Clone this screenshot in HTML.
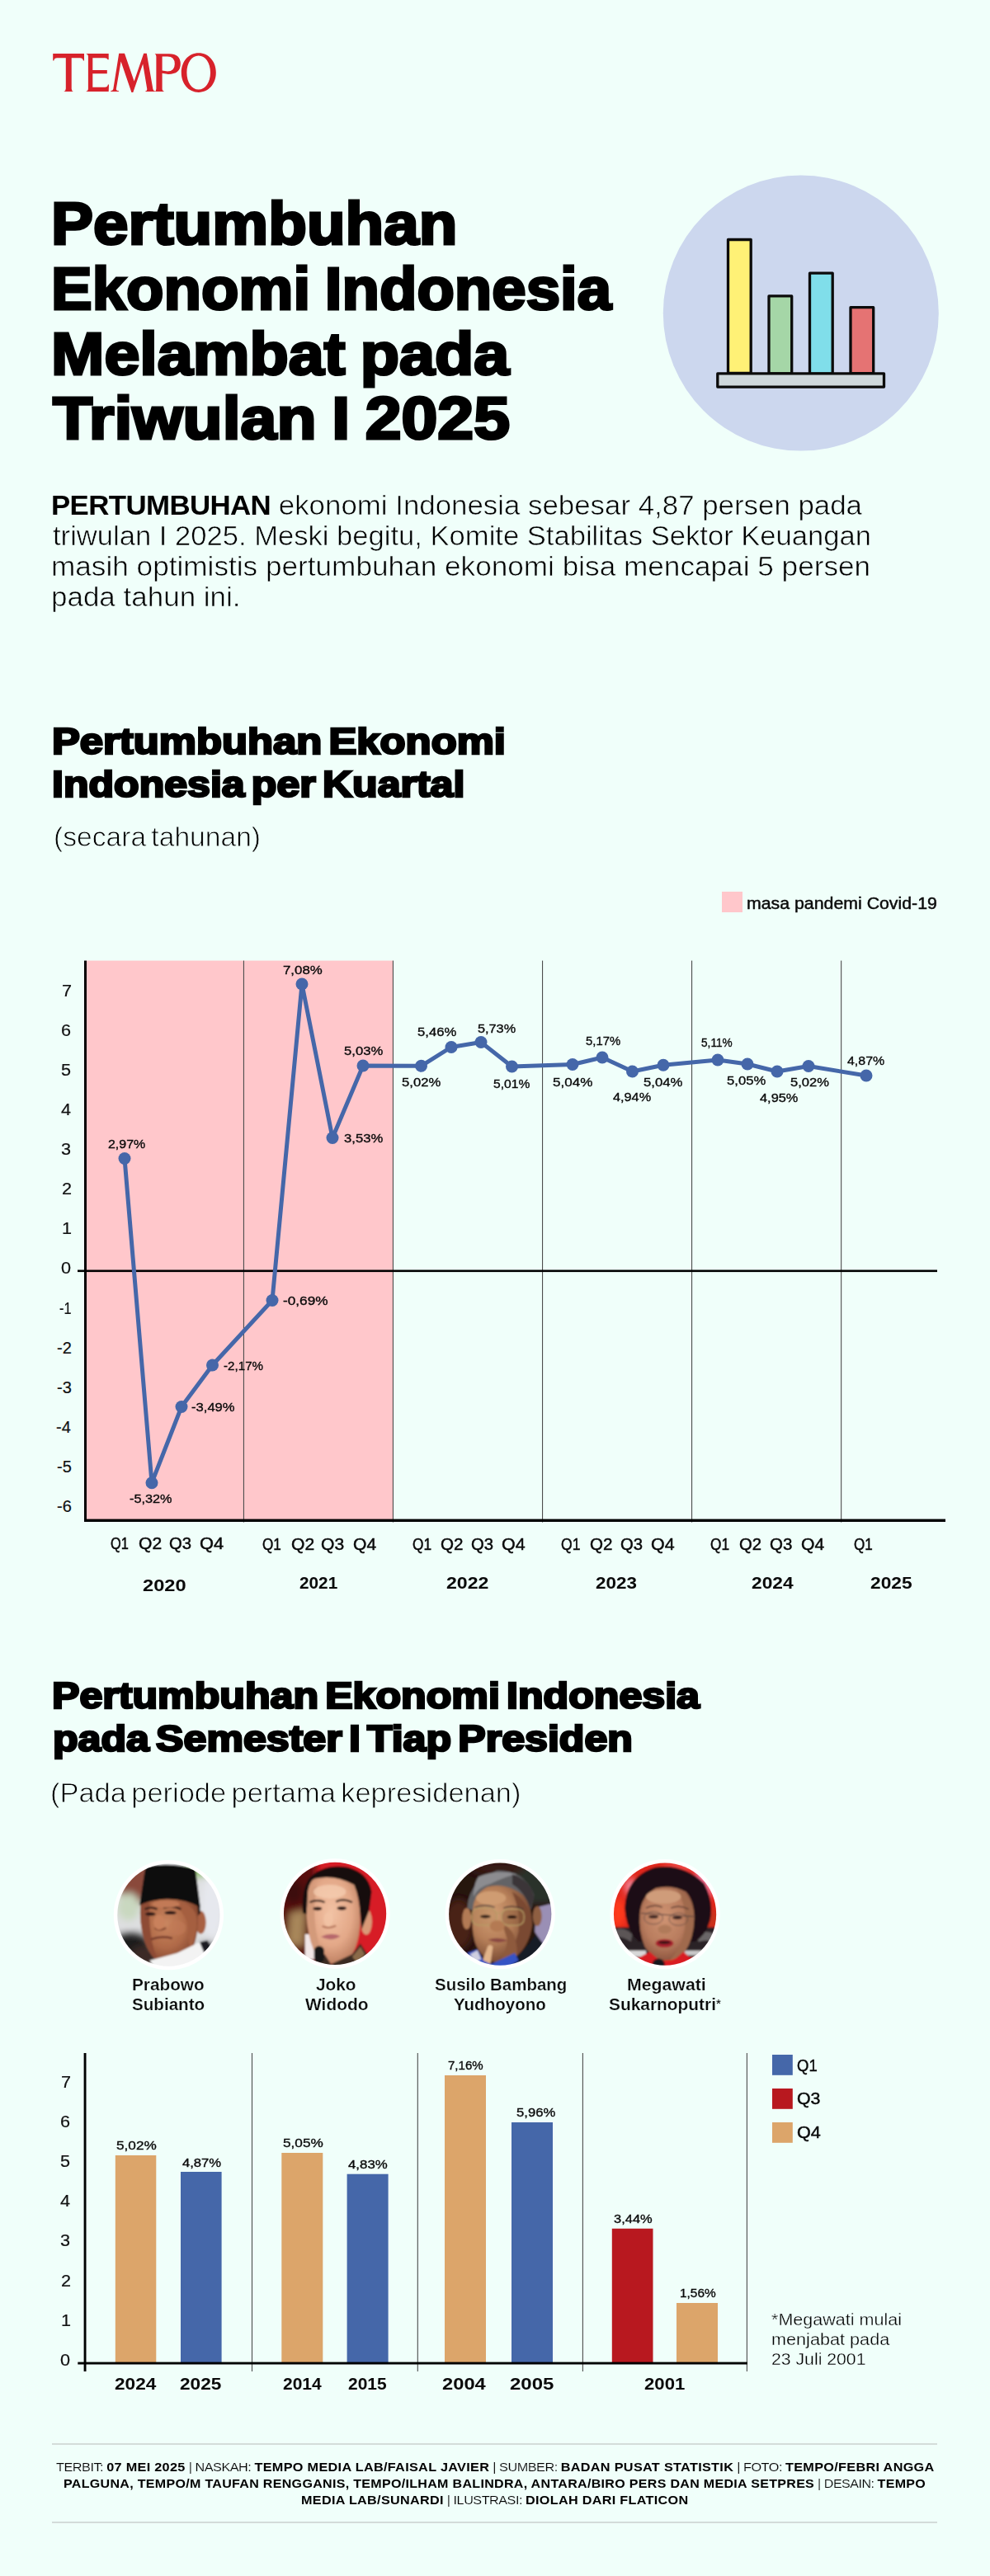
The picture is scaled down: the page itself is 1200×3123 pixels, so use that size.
<!DOCTYPE html>
<html lang="id"><head><meta charset="utf-8">
<title>Pertumbuhan Ekonomi Indonesia Melambat pada Triwulan I 2025</title>
<style>
html,body{margin:0;padding:0;background:#f0fffa;}
body{width:1200px;height:3123px;position:relative;overflow:hidden;font-family:"Liberation Sans",sans-serif;color:#111;}
.t{position:absolute;white-space:nowrap;line-height:1;transform-origin:0 0;}
.abs{position:absolute;}
b{font-weight:700;-webkit-text-stroke:0;}
</style></head><body>

<svg class="abs" style="left:50px;top:50px" width="230" height="80" viewBox="50 50 230 80" role="img" aria-label="TEMPO">
 <g fill="#d7222b" fill-rule="evenodd">
  <path d="M64.2,65.1 L102,65.1 L102,73.4 L100.9,73.4 Q100.3,70.3 97,70.3 L86.7,70.3 L86.7,107.5 Q86.7,110.3 88.8,111 L77.2,111 Q79.8,110.3 79.8,107.5 L79.8,70.3 L69.2,70.3 Q65.9,70.3 65.3,73.4 L64.2,73.4 Z"/>
  <path d="M103.9,65.1 L131.7,65.1 L131.7,72.2 L130.6,72.2 Q130,70.3 127,70.3 L112.3,70.3 L112.3,85.1 L129.8,85.1 L129.8,89.3 L112.3,89.3 L112.3,105.8 L127,105.8 Q130.3,105.8 130.9,102.5 L132,102.5 L131.7,111 L103.9,111 Q106.9,110.3 106.9,107.5 L106.9,68.6 Q106.9,65.9 103.9,65.1 Z"/>
  <path d="M134.2,111 L134.2,110.2 Q137,109.8 137.3,108 L144.2,64.8 L151,64.8 L162.6,98.5 L174.2,64.8 L177.8,64.8 L185.4,108 Q185.8,110.2 188,110.6 L188,111 L176.3,111 L176.3,110.6 Q178.6,110.2 178.3,108 L173.2,77.5 L161.3,111.9 L159.4,111.9 L146.6,74.5 L140.8,108 Q140.6,109.8 144.1,110.2 L144.1,111 Z"/>
  <path d="M187.6,65.2 L205,65.2 Q218.8,65.2 218.8,77.5 Q218.8,89.9 204,89.9 L196.6,88.8 L196.6,107.5 Q196.6,110.3 199.4,111 L187.6,111 Q189.4,110.3 189.4,107.5 L189.4,68.6 Q189.4,65.9 187.6,65.2 Z M196.6,68.4 L203,68.4 Q211.8,68.4 211.8,77.5 Q211.8,86.6 203,86.6 L196.6,85.6 Z"/>
  <path d="M240.8,64.2 C253,64.2 261.8,74.5 261.8,88 C261.8,101.5 253,111.9 240.8,111.9 C228.6,111.9 219.8,101.5 219.8,88 C219.8,74.5 228.6,64.2 240.8,64.2 Z M240.7,67.4 C232.5,67.4 226.4,76 226.4,88 C226.4,100 232.5,108.6 240.7,108.6 C248.9,108.6 255,100 255,88 C255,76 248.9,67.4 240.7,67.4 Z"/>
 </g>
</svg>

<svg class="abs" style="left:790px;top:200px" width="370" height="370" viewBox="790 200 370 370">
  <circle cx="970.8" cy="379.6" r="167" fill="#ccd7ee"/>
  <g stroke="#0b0b0b" stroke-width="3.3" stroke-linejoin="round">
    <rect x="882.5" y="290.5" width="27.7" height="162" fill="#fff176"/>
    <rect x="932" y="358.9" width="27.7" height="94" fill="#a5d6a7"/>
    <rect x="981.5" y="331.2" width="27.7" height="122" fill="#80deea"/>
    <rect x="1031" y="372.7" width="27.7" height="80" fill="#e57373"/>
    <rect x="869.8" y="452.9" width="201.7" height="16.2" fill="#cfd8dc"/>
  </g>
</svg>
<svg class="abs" style="left:0;top:1060px" width="1200" height="900" viewBox="0 1060 1200 900">
<rect x="875" y="1081" width="25" height="25" fill="#ffc7cb"/>
<rect x="104.5" y="1164.6" width="372" height="677.5" fill="#ffc7cb"/>
<rect x="294.9" y="1164.6" width="1.1" height="681" fill="#4d4d4d"/>
<rect x="475.9" y="1164.6" width="1.1" height="681" fill="#4d4d4d"/>
<rect x="657.0" y="1164.6" width="1.1" height="681" fill="#4d4d4d"/>
<rect x="838.0" y="1164.6" width="1.1" height="681" fill="#4d4d4d"/>
<rect x="1019.1" y="1164.6" width="1.1" height="681" fill="#4d4d4d"/>
<rect x="102" y="1164.6" width="3" height="680.4" fill="#000"/>
<rect x="102" y="1841.6" width="1044" height="3.4" fill="#000"/>
<rect x="94" y="1539.5" width="1042" height="2.6" fill="#000"/>
<polyline fill="none" stroke="#4567a9" stroke-width="5" stroke-linejoin="round" stroke-linecap="round" points="151,1404.5 184,1797.7 220,1705.5 257.5,1655 330,1576.5 366,1193 403,1379.5 440,1292 510.5,1292.3 547,1269.5 583,1263.5 620.5,1293 694,1290.5 730,1282 766.5,1299 804,1291.3 870,1285 906,1290 942,1299 980,1292.5 1050,1304"/>
<circle cx="151" cy="1404.5" r="7.5" fill="#4567a9"/>
<circle cx="184" cy="1797.7" r="7.5" fill="#4567a9"/>
<circle cx="220" cy="1705.5" r="7.5" fill="#4567a9"/>
<circle cx="257.5" cy="1655" r="7.5" fill="#4567a9"/>
<circle cx="330" cy="1576.5" r="7.5" fill="#4567a9"/>
<circle cx="366" cy="1193" r="7.5" fill="#4567a9"/>
<circle cx="403" cy="1379.5" r="7.5" fill="#4567a9"/>
<circle cx="440" cy="1292" r="7.5" fill="#4567a9"/>
<circle cx="510.5" cy="1292.3" r="7.5" fill="#4567a9"/>
<circle cx="547" cy="1269.5" r="7.5" fill="#4567a9"/>
<circle cx="583" cy="1263.5" r="7.5" fill="#4567a9"/>
<circle cx="620.5" cy="1293" r="7.5" fill="#4567a9"/>
<circle cx="694" cy="1290.5" r="7.5" fill="#4567a9"/>
<circle cx="730" cy="1282" r="7.5" fill="#4567a9"/>
<circle cx="766.5" cy="1299" r="7.5" fill="#4567a9"/>
<circle cx="804" cy="1291.3" r="7.5" fill="#4567a9"/>
<circle cx="870" cy="1285" r="7.5" fill="#4567a9"/>
<circle cx="906" cy="1290" r="7.5" fill="#4567a9"/>
<circle cx="942" cy="1299" r="7.5" fill="#4567a9"/>
<circle cx="980" cy="1292.5" r="7.5" fill="#4567a9"/>
<circle cx="1050" cy="1304" r="7.5" fill="#4567a9"/>
</svg>
<svg class="abs" style="left:100px;top:2230px" width="820" height="180" viewBox="100 2230 820 180">
<defs>
  <filter id="ring" x="-10%" y="-10%" width="120%" height="120%"><feGaussianBlur stdDeviation="5"/></filter>
  <filter id="soft" x="-5%" y="-5%" width="110%" height="110%"><feGaussianBlur stdDeviation="7"/></filter>
  <filter id="blur2" x="-30%" y="-30%" width="160%" height="160%"><feGaussianBlur stdDeviation="28"/></filter>
  <clipPath id="cp1"><circle cx="491" cy="486" r="410"/></clipPath>
  <clipPath id="cp2"><circle cx="502" cy="475" r="410"/></clipPath>
  <clipPath id="cp3"><circle cx="503" cy="479" r="410"/></clipPath>
  <clipPath id="cp4"><circle cx="502" cy="479" r="410"/></clipPath>

  <radialGradient id="f1" cx="0.45" cy="0.42" r="0.62"><stop offset="0" stop-color="#c98660"/><stop offset="0.55" stop-color="#b06a48"/><stop offset="1" stop-color="#7e422c"/></radialGradient>
  <radialGradient id="f2" cx="0.46" cy="0.40" r="0.65"><stop offset="0" stop-color="#f2c2a4"/><stop offset="0.6" stop-color="#e3a888"/><stop offset="1" stop-color="#b97a5c"/></radialGradient>
  <radialGradient id="f3" cx="0.34" cy="0.38" r="0.7"><stop offset="0" stop-color="#d3a076"/><stop offset="0.5" stop-color="#b57e58"/><stop offset="1" stop-color="#6a3e2a"/></radialGradient>
  <radialGradient id="f4" cx="0.45" cy="0.42" r="0.62"><stop offset="0" stop-color="#cf9473"/><stop offset="0.6" stop-color="#b87c5e"/><stop offset="1" stop-color="#86503c"/></radialGradient>
</defs>
<g transform="translate(130,2248) scale(0.15152)">
  <circle cx="491" cy="486" r="440" fill="#ffffff" filter="url(#ring)"/>
  <g clip-path="url(#cp1)"><g filter="url(#soft)">
<rect x="0" y="0" width="990" height="950" fill="#dedfe1"/>
<g filter="url(#blur2)">
 <ellipse cx="230" cy="230" rx="150" ry="170" fill="#8a4a3a"/>
 <ellipse cx="170" cy="420" rx="90" ry="110" fill="#c9d8c0"/>
 <ellipse cx="190" cy="760" rx="170" ry="130" fill="#1d1a1a"/>
 <ellipse cx="300" cy="820" rx="120" ry="90" fill="#3a2a28"/>
 <ellipse cx="720" cy="130" rx="120" ry="50" fill="#8dbd6c"/>
 <ellipse cx="840" cy="420" rx="90" ry="250" fill="#e6e8ee"/>
 <ellipse cx="800" cy="760" rx="60" ry="60" fill="#30343a"/>
</g>
<ellipse cx="748" cy="545" rx="42" ry="92" fill="#a86042"/>
<path d="M650,380 L740,400 L745,470 L700,520 L660,460 Z" fill="#1a1412"/>
<path d="M268,380 Q250,560 300,700 Q360,860 470,880 Q600,870 680,760 Q740,640 722,400 Q600,320 480,320 Q360,325 268,380 Z" fill="url(#f1)"/>
<path d="M268,390 Q255,560 300,700 Q340,820 420,870 Q360,760 350,640 Q330,520 340,390 Z" fill="#8e4c34"/>
<path d="M560,380 Q700,400 718,520 Q720,640 670,760 Q640,700 650,600 Q640,500 560,420Z" fill="#a55e40"/>
<ellipse cx="345" cy="478" rx="42" ry="14" fill="#2a1712"/>
<ellipse cx="505" cy="468" rx="48" ry="14" fill="#2a1712"/>
<path d="M300,440 Q350,415 400,440" stroke="#3a221a" stroke-width="16" fill="none"/>
<path d="M450,430 Q520,405 590,440" stroke="#3a221a" stroke-width="16" fill="none"/>
<path d="M380,590 Q420,620 470,590" stroke="#7d402c" stroke-width="14" fill="none"/>
<ellipse cx="415" cy="545" rx="45" ry="60" fill="#c9815c"/><ellipse cx="560" cy="590" rx="70" ry="60" fill="#c27a56" opacity=".6"/><ellipse cx="470" cy="400" rx="110" ry="28" fill="#c27a56"/>
<path d="M350,680 Q430,650 520,672" stroke="#6e3428" stroke-width="16" fill="none"/>
<path d="M340,850 L560,790 L745,700 L790,800 L600,905 L380,905 Z" fill="#f3f3f3"/>
<path d="M740,705 L800,690 L840,760 L780,800 Z" fill="#1c1c20"/>
<path d="M305,100 Q500,60 705,118 L745,425 Q640,362 480,358 Q350,362 258,408 Z" fill="#0b0b0d"/>
</g></g>
</g>
<g transform="translate(330,2248) scale(0.15152)">
  <circle cx="502" cy="475" r="440" fill="#ffffff" filter="url(#ring)"/>
  <g clip-path="url(#cp2)"><g filter="url(#soft)">
<rect x="0" y="0" width="990" height="950" fill="#d71c25"/>
<g filter="url(#blur2)">
 <rect x="0" y="0" width="350" height="950" fill="#581010"/>
 <path d="M140,470 L270,440 L250,740 L120,720 Z" fill="#a8875a"/>
 <ellipse cx="170" cy="300" rx="80" ry="100" fill="#3c0c0c"/>
</g>
<rect x="262" y="640" width="110" height="200" fill="#f1e6e6"/>
<ellipse cx="752" cy="540" rx="46" ry="105" fill="#d99a78"/>
<path d="M245,470 Q230,300 290,200 Q400,70 610,105 Q770,150 795,300 L775,450 L715,600 L700,460 Q690,330 660,280 Q480,200 310,260 Q280,330 280,480 Z" fill="#15100f"/>
<path d="M285,290 Q300,212 340,195 Q500,160 655,245 Q700,350 705,520 Q700,700 640,800 Q560,880 470,875 Q380,860 330,760 Q280,640 275,480 Z" fill="url(#f2)"/>
<path d="M285,320 Q275,520 330,760 Q380,850 430,870 Q350,700 340,520 Q330,380 360,250 Q300,260 285,320Z" fill="#d39a7a"/>
<ellipse cx="460" cy="300" rx="130" ry="55" fill="#f7d0b4" opacity=".7"/>
<path d="M300,385 Q360,355 420,385" stroke="#2a1a16" stroke-width="15" fill="none"/>
<path d="M510,380 Q570,350 640,385" stroke="#2a1a16" stroke-width="15" fill="none"/>
<ellipse cx="362" cy="435" rx="36" ry="15" fill="#2a1512"/>
<ellipse cx="556" cy="432" rx="38" ry="15" fill="#2a1512"/>
<path d="M400,575 Q450,600 510,572" stroke="#b06e54" stroke-width="13" fill="none"/><ellipse cx="450" cy="520" rx="38" ry="60" fill="#f3c4a6" opacity=".8"/>
<path d="M390,660 Q465,620 545,655 Q470,705 390,660Z" fill="#b7686c"/>
<path d="M330,870 L420,800 L470,880 L640,800 L705,715 L760,800 L700,880 L560,910 L400,910 Z" fill="#3a2a22"/>
<path d="M640,820 L705,740 L740,800 L680,870Z" fill="#8a6a4a"/>
<rect x="335" y="735" width="80" height="130" rx="36" fill="#141414"/>
</g></g>
</g>
<g transform="translate(530,2248) scale(0.15152)">
  <circle cx="503" cy="479" r="440" fill="#ffffff" filter="url(#ring)"/>
  <g clip-path="url(#cp3)"><g filter="url(#soft)">
<rect x="0" y="0" width="990" height="950" fill="#26120e"/>
<g filter="url(#blur2)">
 <rect x="600" y="60" width="400" height="340" fill="#2b3229"/>
 <ellipse cx="170" cy="560" rx="120" ry="200" fill="#4a2216"/>
 <ellipse cx="480" cy="110" rx="220" ry="50" fill="#3a1a16"/>
</g>
<path d="M790,425 L920,395 L920,720 L840,720 L780,620 Z" fill="#9a8fb5"/>
<ellipse cx="236" cy="515" rx="36" ry="85" fill="#b27a55"/>
<ellipse cx="800" cy="495" rx="36" ry="80" fill="#8f5e42"/>
<path d="M240,430 Q250,220 480,130 Q700,125 775,330 L750,440 Q640,240 420,255 Q300,300 285,450 Z" fill="#636366"/>
<path d="M330,180 Q480,120 640,160 Q560,170 420,240 Q330,260 290,340 Q290,240 330,180Z" fill="#8c8c90"/>
<path d="M600,160 Q740,200 775,340 L745,440 Q700,300 600,240 Z" fill="#3a3638"/>
<path d="M285,440 Q290,320 400,260 Q560,225 690,330 Q760,420 760,560 Q740,720 640,810 Q540,880 440,860 Q340,820 300,700 Q270,580 285,440 Z" fill="url(#f3)"/>
<path d="M600,300 Q740,380 760,560 Q740,720 640,810 Q560,860 500,865 Q620,760 650,620 Q670,460 600,300Z" fill="#7a4a32"/>
<ellipse cx="430" cy="350" rx="120" ry="55" fill="#cf9c72"/><path d="M520,560 Q640,600 640,810 Q560,860 500,865 Q560,760 560,680Z" fill="#8e5a3c"/>
<rect x="275" y="432" width="200" height="135" rx="55" fill="#b98a60" fill-opacity=".45" stroke="#b59c66" stroke-width="8"/>
<rect x="515" y="440" width="180" height="128" rx="52" fill="#8a5a3c" fill-opacity=".45" stroke="#b59c66" stroke-width="8"/>
<path d="M475,470 L515,472" stroke="#b59c66" stroke-width="8"/>
<ellipse cx="385" cy="498" rx="42" ry="13" fill="#2e1a12"/><path d="M300,425 Q380,395 460,425" stroke="#5a4a40" stroke-width="10" fill="none"/>
<ellipse cx="598" cy="502" rx="40" ry="13" fill="#2a160f"/><path d="M530,430 Q610,400 690,440" stroke="#4a3a32" stroke-width="10" fill="none"/>
<ellipse cx="480" cy="575" rx="60" ry="45" fill="#b47a52"/>
<path d="M405,685 Q480,655 565,690 Q485,720 405,685Z" fill="#8b4a42"/>
<path d="M355,870 L405,735 Q425,715 445,740 L425,880 Z" fill="#e2b48a"/>
<path d="M560,870 Q700,780 790,640 L850,720 L820,800 L650,900 Z" fill="#181a28"/>
<path d="M240,790 L320,760 L370,850 L430,880 L620,790 L650,850 L560,905 L330,905 Z" fill="#3552c4"/>
<path d="M262,800 L322,768 L352,840 L300,860Z" fill="#cfcfe0"/>
</g></g>
</g>
<g transform="translate(730,2248) scale(0.15152)">
  <circle cx="502" cy="479" r="440" fill="#ffffff" filter="url(#ring)"/>
  <g clip-path="url(#cp4)"><g filter="url(#soft)">
<rect x="0" y="0" width="990" height="950" fill="#e0261a"/>
<g filter="url(#blur2)">
 <ellipse cx="800" cy="250" rx="90" ry="120" fill="#f06a8a"/>
 <ellipse cx="230" cy="260" rx="50" ry="70" fill="#f58aa0"/>
 <ellipse cx="130" cy="470" rx="60" ry="120" fill="#ff3a1a"/>
 <ellipse cx="880" cy="520" rx="60" ry="80" fill="#c8301a"/>
 <ellipse cx="600" cy="110" rx="120" ry="40" fill="#f04a4a"/>
</g>
<rect x="60" y="585" width="880" height="240" fill="#2b2325"/>
<path d="M110,600 Q180,580 240,640 L230,700 Q150,650 100,660Z" fill="#5b5557"/>
<path d="M760,640 Q830,600 900,640 L890,700 Q830,680 770,700Z" fill="#6b6668"/>
<rect x="150" y="770" width="200" height="50" fill="#d8d8d8"/>
<rect x="650" y="770" width="180" height="40" fill="#c8c8c8"/>
<path d="M180,430 Q190,180 420,105 Q650,70 815,235 Q895,380 862,530 Q830,650 740,700 L290,700 Q190,600 180,430 Z" fill="#1c0e12"/>
<path d="M300,480 Q310,330 430,270 Q560,240 670,300 Q740,380 735,520 Q730,680 660,780 Q580,850 500,850 Q400,840 340,740 Q290,620 300,480 Z" fill="url(#f4)"/>
<path d="M600,280 Q740,360 735,520 Q730,680 660,780 Q600,840 540,848 Q640,740 660,600 Q680,420 600,280Z" fill="#a06a4e"/>
<ellipse cx="490" cy="340" rx="140" ry="55" fill="#cf9c7a"/>
<path d="M310,472 L730,498" stroke="#4a3a3a" stroke-width="7"/>
<ellipse cx="410" cy="510" rx="75" ry="50" fill="none" stroke="#6a5048" stroke-width="6"/>
<ellipse cx="610" cy="520" rx="75" ry="50" fill="none" stroke="#6a5048" stroke-width="6"/>
<ellipse cx="410" cy="500" rx="40" ry="13" fill="#3a2420"/>
<ellipse cx="600" cy="508" rx="40" ry="13" fill="#3a2420"/>
<path d="M350,430 Q420,395 480,425" stroke="#5a3a30" stroke-width="9" fill="none"/>
<path d="M550,430 Q620,400 690,440" stroke="#5a3a30" stroke-width="9" fill="none"/>
<ellipse cx="500" cy="600" rx="55" ry="35" fill="#b07a5a"/>
<ellipse cx="498" cy="712" rx="72" ry="34" fill="#a8222e"/>
<ellipse cx="498" cy="706" rx="50" ry="13" fill="#3a1216"/>
<path d="M270,840 L380,780 L470,860 L560,860 L650,780 L730,850 L620,910 L380,910 Z" fill="#d91a22"/>
<ellipse cx="450" cy="880" rx="50" ry="45" fill="#17171a"/>
</g></g>
</g></svg>
<svg class="abs" style="left:0;top:2470px" width="1200" height="440" viewBox="0 2470 1200 440">
<rect x="304.95" y="2489" width="1.1" height="386" fill="#4d4d4d"/>
<rect x="505.75" y="2489" width="1.1" height="386" fill="#4d4d4d"/>
<rect x="705.85" y="2489" width="1.1" height="386" fill="#4d4d4d"/>
<rect x="904.85" y="2489" width="1.1" height="386" fill="#4d4d4d"/>
<rect x="139.8" y="2613" width="49.5" height="251" fill="#dca56a"/>
<rect x="219" y="2633" width="49.6" height="231" fill="#4567a9"/>
<rect x="341.3" y="2610" width="50" height="254" fill="#dca56a"/>
<rect x="420.6" y="2635.7" width="50" height="228.3" fill="#4567a9"/>
<rect x="539" y="2516" width="50" height="348" fill="#dca56a"/>
<rect x="620" y="2573" width="50" height="291" fill="#4567a9"/>
<rect x="741.8" y="2701.8" width="49.7" height="162.2" fill="#b8181f"/>
<rect x="820" y="2792" width="50" height="72" fill="#dca56a"/>
<rect x="101.6" y="2489" width="2.9" height="386" fill="#000"/>
<rect x="94.3" y="2863.6" width="811.6" height="2.9" fill="#000"/>
<rect x="936" y="2491" width="24.8" height="24.8" fill="#4567a9"/>
<rect x="936" y="2532" width="24.8" height="24.8" fill="#b8181f"/>
<rect x="936" y="2573" width="24.8" height="24.8" fill="#dca56a"/>
</svg>

<div class="abs" style="left:63px;top:2961.5px;width:1073px;height:2px;background:#d3dcd9"></div>
<div class="abs" style="left:63px;top:3056.6px;width:1073px;height:2px;background:#d3dcd9"></div>
<div class="t" style="left:61.86px;top:233.52px;font-family:'Liberation Sans', sans-serif;font-size:73.1px;font-weight:700;-webkit-text-stroke:3.2px currentColor;word-spacing:-3px;color:#000;transform:scaleX(1.0452);">Pertumbuhan</div>
<div class="t" style="left:61.95px;top:312.62px;font-family:'Liberation Sans', sans-serif;font-size:73.1px;font-weight:700;-webkit-text-stroke:3.2px currentColor;word-spacing:-3px;color:#000;transform:scaleX(1.0180);">Ekonomi Indonesia</div>
<div class="t" style="left:61.83px;top:391.62px;font-family:'Liberation Sans', sans-serif;font-size:73.1px;font-weight:700;-webkit-text-stroke:3.2px currentColor;word-spacing:-3px;color:#000;transform:scaleX(1.0573);">Melambat pada</div>
<div class="t" style="left:64.08px;top:470.42px;font-family:'Liberation Sans', sans-serif;font-size:73.1px;font-weight:700;-webkit-text-stroke:3.2px currentColor;word-spacing:-3px;color:#000;transform:scaleX(1.0777);">Triwulan I 2025</div>
<div class="t" style="left:61.88px;top:596.14px;font-family:'Liberation Sans', sans-serif;font-size:33.5px;font-weight:400;-webkit-text-stroke:0.6px #f0fffa;color:#000;transform:scaleX(1.0403);"><b style="letter-spacing:-0.6px">PERTUMBUHAN</b> ekonomi Indonesia sebesar 4,87 persen pada</div>
<div class="t" style="left:63.97px;top:632.94px;font-family:'Liberation Sans', sans-serif;font-size:33.5px;font-weight:400;-webkit-text-stroke:0.6px #f0fffa;color:#000;transform:scaleX(1.0324);">triwulan I 2025. Meski begitu, Komite Stabilitas Sektor Keuangan</div>
<div class="t" style="left:61.85px;top:670.04px;font-family:'Liberation Sans', sans-serif;font-size:33.5px;font-weight:400;-webkit-text-stroke:0.6px #f0fffa;color:#000;transform:scaleX(1.0499);">masih optimistis pertumbuhan ekonomi bisa mencapai 5 persen</div>
<div class="t" style="left:61.87px;top:706.64px;font-family:'Liberation Sans', sans-serif;font-size:33.5px;font-weight:400;-webkit-text-stroke:0.6px #f0fffa;color:#000;transform:scaleX(1.0444);">pada tahun ini.</div>
<div class="t" style="left:62.68px;top:876.62px;font-family:'Liberation Sans', sans-serif;font-size:43.8px;font-weight:700;-webkit-text-stroke:2.6px currentColor;word-spacing:-5px;color:#000;transform:scaleX(1.1592);">Pertumbuhan Ekonomi</div>
<div class="t" style="left:62.71px;top:928.62px;font-family:'Liberation Sans', sans-serif;font-size:43.8px;font-weight:700;-webkit-text-stroke:2.6px currentColor;word-spacing:-5px;color:#000;transform:scaleX(1.1429);">Indonesia per Kuartal</div>
<div class="t" style="left:64.95px;top:999.23px;font-family:'Liberation Sans', sans-serif;font-size:32.8px;font-weight:400;-webkit-text-stroke:0.8px #f0fffa;word-spacing:-3px;color:#000;transform:scaleX(1.0249);">(secara tahunan)</div>
<div class="t" style="left:62.71px;top:2033.62px;font-family:'Liberation Sans', sans-serif;font-size:43.8px;font-weight:700;-webkit-text-stroke:2.6px currentColor;word-spacing:-5px;color:#000;transform:scaleX(1.1443);">Pertumbuhan Ekonomi Indonesia</div>
<div class="t" style="left:63.86px;top:2085.62px;font-family:'Liberation Sans', sans-serif;font-size:43.8px;font-weight:700;-webkit-text-stroke:2.6px currentColor;word-spacing:-5px;color:#000;transform:scaleX(1.1438);">pada Semester I Tiap Presiden</div>
<div class="t" style="left:60.60px;top:2157.83px;font-family:'Liberation Sans', sans-serif;font-size:32.8px;font-weight:400;-webkit-text-stroke:0.8px #f0fffa;word-spacing:-3px;color:#000;transform:scaleX(1.0497);">(Pada periode pertama kepresidenan)</div>
<div class="t" style="left:904.93px;top:1084.77px;font-family:'Liberation Sans', sans-serif;font-size:20px;font-weight:400;-webkit-text-stroke:0.45px currentColor;color:#0a0a0a;transform:scaleX(1.0651);">masa pandemi Covid-19</div>
<div class="t" style="left:75.20px;top:1190.77px;font-family:'Liberation Sans', sans-serif;font-size:20px;font-weight:400;-webkit-text-stroke:0.2px currentColor;color:#111;transform:scaleX(1.0800);">7</div>
<div class="t" style="left:74.12px;top:1238.87px;font-family:'Liberation Sans', sans-serif;font-size:20px;font-weight:400;-webkit-text-stroke:0.2px currentColor;color:#111;transform:scaleX(1.0800);">6</div>
<div class="t" style="left:74.12px;top:1286.97px;font-family:'Liberation Sans', sans-serif;font-size:20px;font-weight:400;-webkit-text-stroke:0.2px currentColor;color:#111;transform:scaleX(1.0800);">5</div>
<div class="t" style="left:74.12px;top:1335.07px;font-family:'Liberation Sans', sans-serif;font-size:20px;font-weight:400;-webkit-text-stroke:0.2px currentColor;color:#111;transform:scaleX(1.0800);">4</div>
<div class="t" style="left:74.12px;top:1383.17px;font-family:'Liberation Sans', sans-serif;font-size:20px;font-weight:400;-webkit-text-stroke:0.2px currentColor;color:#111;transform:scaleX(1.0800);">3</div>
<div class="t" style="left:75.20px;top:1431.27px;font-family:'Liberation Sans', sans-serif;font-size:20px;font-weight:400;-webkit-text-stroke:0.2px currentColor;color:#111;transform:scaleX(1.0800);">2</div>
<div class="t" style="left:75.20px;top:1479.37px;font-family:'Liberation Sans', sans-serif;font-size:20px;font-weight:400;-webkit-text-stroke:0.2px currentColor;color:#111;transform:scaleX(1.0800);">1</div>
<div class="t" style="left:74.12px;top:1527.47px;font-family:'Liberation Sans', sans-serif;font-size:20px;font-weight:400;-webkit-text-stroke:0.2px currentColor;color:#111;transform:scaleX(1.0800);">0</div>
<div class="t" style="left:72.19px;top:1575.57px;font-family:'Liberation Sans', sans-serif;font-size:20px;font-weight:400;-webkit-text-stroke:0.2px currentColor;color:#111;transform:scaleX(0.8125);">-1</div>
<div class="t" style="left:69.00px;top:1623.67px;font-family:'Liberation Sans', sans-serif;font-size:20px;font-weight:400;-webkit-text-stroke:0.2px currentColor;color:#111;">-2</div>
<div class="t" style="left:69.00px;top:1671.77px;font-family:'Liberation Sans', sans-serif;font-size:20px;font-weight:400;-webkit-text-stroke:0.2px currentColor;color:#111;">-3</div>
<div class="t" style="left:68.00px;top:1719.87px;font-family:'Liberation Sans', sans-serif;font-size:20px;font-weight:400;-webkit-text-stroke:0.2px currentColor;color:#111;">-4</div>
<div class="t" style="left:69.00px;top:1767.97px;font-family:'Liberation Sans', sans-serif;font-size:20px;font-weight:400;-webkit-text-stroke:0.2px currentColor;color:#111;">-5</div>
<div class="t" style="left:69.00px;top:1816.07px;font-family:'Liberation Sans', sans-serif;font-size:20px;font-weight:400;-webkit-text-stroke:0.2px currentColor;color:#111;">-6</div>
<div class="t" style="left:130.70px;top:1379.56px;font-family:'Liberation Sans', sans-serif;font-size:14.7px;font-weight:400;-webkit-text-stroke:0.35px currentColor;color:#0a0a0a;transform:scaleX(1.0854);">2,97%</div>
<div class="t" style="left:157.20px;top:1810.36px;font-family:'Liberation Sans', sans-serif;font-size:14.7px;font-weight:400;-webkit-text-stroke:0.35px currentColor;color:#0a0a0a;transform:scaleX(1.1087);">-5,32%</div>
<div class="t" style="left:231.70px;top:1699.06px;font-family:'Liberation Sans', sans-serif;font-size:14.7px;font-weight:400;-webkit-text-stroke:0.35px currentColor;color:#0a0a0a;transform:scaleX(1.1304);">-3,49%</div>
<div class="t" style="left:270.70px;top:1648.56px;font-family:'Liberation Sans', sans-serif;font-size:14.7px;font-weight:400;-webkit-text-stroke:0.35px currentColor;color:#0a0a0a;transform:scaleX(1.0326);">-2,17%</div>
<div class="t" style="left:343.20px;top:1570.06px;font-family:'Liberation Sans', sans-serif;font-size:14.7px;font-weight:400;-webkit-text-stroke:0.35px currentColor;color:#0a0a0a;transform:scaleX(1.1739);">-0,69%</div>
<div class="t" style="left:343.20px;top:1169.06px;font-family:'Liberation Sans', sans-serif;font-size:14.7px;font-weight:400;-webkit-text-stroke:0.35px currentColor;color:#0a0a0a;transform:scaleX(1.1463);">7,08%</div>
<div class="t" style="left:416.70px;top:1373.06px;font-family:'Liberation Sans', sans-serif;font-size:14.7px;font-weight:400;-webkit-text-stroke:0.35px currentColor;color:#0a0a0a;transform:scaleX(1.1341);">3,53%</div>
<div class="t" style="left:416.70px;top:1267.06px;font-family:'Liberation Sans', sans-serif;font-size:14.7px;font-weight:400;-webkit-text-stroke:0.35px currentColor;color:#0a0a0a;transform:scaleX(1.1341);">5,03%</div>
<div class="t" style="left:486.70px;top:1304.56px;font-family:'Liberation Sans', sans-serif;font-size:14.7px;font-weight:400;-webkit-text-stroke:0.35px currentColor;color:#0a0a0a;transform:scaleX(1.1341);">5,02%</div>
<div class="t" style="left:505.70px;top:1244.26px;font-family:'Liberation Sans', sans-serif;font-size:14.7px;font-weight:400;-webkit-text-stroke:0.35px currentColor;color:#0a0a0a;transform:scaleX(1.1341);">5,46%</div>
<div class="t" style="left:578.80px;top:1239.56px;font-family:'Liberation Sans', sans-serif;font-size:14.7px;font-weight:400;-webkit-text-stroke:0.35px currentColor;color:#0a0a0a;transform:scaleX(1.1073);">5,73%</div>
<div class="t" style="left:598.20px;top:1306.56px;font-family:'Liberation Sans', sans-serif;font-size:14.7px;font-weight:400;-webkit-text-stroke:0.35px currentColor;color:#0a0a0a;transform:scaleX(1.0634);">5,01%</div>
<div class="t" style="left:670.20px;top:1305.26px;font-family:'Liberation Sans', sans-serif;font-size:14.7px;font-weight:400;-webkit-text-stroke:0.35px currentColor;color:#0a0a0a;transform:scaleX(1.1610);">5,04%</div>
<div class="t" style="left:709.70px;top:1255.16px;font-family:'Liberation Sans', sans-serif;font-size:14.7px;font-weight:400;-webkit-text-stroke:0.35px currentColor;color:#0a0a0a;transform:scaleX(1.0122);">5,17%</div>
<div class="t" style="left:742.80px;top:1322.56px;font-family:'Liberation Sans', sans-serif;font-size:14.7px;font-weight:400;-webkit-text-stroke:0.35px currentColor;color:#0a0a0a;transform:scaleX(1.1073);">4,94%</div>
<div class="t" style="left:780.20px;top:1305.26px;font-family:'Liberation Sans', sans-serif;font-size:14.7px;font-weight:400;-webkit-text-stroke:0.35px currentColor;color:#0a0a0a;transform:scaleX(1.1390);">5,04%</div>
<div class="t" style="left:849.70px;top:1257.16px;font-family:'Liberation Sans', sans-serif;font-size:14.7px;font-weight:400;-webkit-text-stroke:0.35px currentColor;color:#0a0a0a;transform:scaleX(0.9300);">5,11%</div>
<div class="t" style="left:881.20px;top:1302.56px;font-family:'Liberation Sans', sans-serif;font-size:14.7px;font-weight:400;-webkit-text-stroke:0.35px currentColor;color:#0a0a0a;transform:scaleX(1.1341);">5,05%</div>
<div class="t" style="left:921.20px;top:1324.26px;font-family:'Liberation Sans', sans-serif;font-size:14.7px;font-weight:400;-webkit-text-stroke:0.35px currentColor;color:#0a0a0a;transform:scaleX(1.1146);">4,95%</div>
<div class="t" style="left:958.00px;top:1305.26px;font-family:'Liberation Sans', sans-serif;font-size:14.7px;font-weight:400;-webkit-text-stroke:0.35px currentColor;color:#0a0a0a;transform:scaleX(1.1268);">5,02%</div>
<div class="t" style="left:1026.70px;top:1278.56px;font-family:'Liberation Sans', sans-serif;font-size:14.7px;font-weight:400;-webkit-text-stroke:0.35px currentColor;color:#0a0a0a;transform:scaleX(1.0854);">4,87%</div>
<div class="t" style="left:134.16px;top:1862.09px;font-family:'Liberation Sans', sans-serif;font-size:19.5px;font-weight:400;-webkit-text-stroke:0.45px currentColor;color:#0a0a0a;transform:scaleX(0.8400);">Q1</div>
<div class="t" style="left:167.92px;top:1862.09px;font-family:'Liberation Sans', sans-serif;font-size:19.5px;font-weight:400;-webkit-text-stroke:0.45px currentColor;color:#0a0a0a;transform:scaleX(1.0800);">Q2</div>
<div class="t" style="left:204.96px;top:1862.09px;font-family:'Liberation Sans', sans-serif;font-size:19.5px;font-weight:400;-webkit-text-stroke:0.45px currentColor;color:#0a0a0a;transform:scaleX(1.0400);">Q3</div>
<div class="t" style="left:241.88px;top:1862.09px;font-family:'Liberation Sans', sans-serif;font-size:19.5px;font-weight:400;-webkit-text-stroke:0.45px currentColor;color:#0a0a0a;transform:scaleX(1.1200);">Q4</div>
<div class="t" style="left:318.12px;top:1863.49px;font-family:'Liberation Sans', sans-serif;font-size:19.5px;font-weight:400;-webkit-text-stroke:0.45px currentColor;color:#0a0a0a;transform:scaleX(0.8800);">Q1</div>
<div class="t" style="left:352.92px;top:1863.49px;font-family:'Liberation Sans', sans-serif;font-size:19.5px;font-weight:400;-webkit-text-stroke:0.45px currentColor;color:#0a0a0a;transform:scaleX(1.0800);">Q2</div>
<div class="t" style="left:388.92px;top:1863.49px;font-family:'Liberation Sans', sans-serif;font-size:19.5px;font-weight:400;-webkit-text-stroke:0.45px currentColor;color:#0a0a0a;transform:scaleX(1.0800);">Q3</div>
<div class="t" style="left:427.92px;top:1863.49px;font-family:'Liberation Sans', sans-serif;font-size:19.5px;font-weight:400;-webkit-text-stroke:0.45px currentColor;color:#0a0a0a;transform:scaleX(1.0800);">Q4</div>
<div class="t" style="left:499.51px;top:1863.49px;font-family:'Liberation Sans', sans-serif;font-size:19.5px;font-weight:400;-webkit-text-stroke:0.45px currentColor;color:#0a0a0a;transform:scaleX(0.8880);">Q1</div>
<div class="t" style="left:533.94px;top:1863.49px;font-family:'Liberation Sans', sans-serif;font-size:19.5px;font-weight:400;-webkit-text-stroke:0.45px currentColor;color:#0a0a0a;transform:scaleX(1.0560);">Q2</div>
<div class="t" style="left:570.96px;top:1863.49px;font-family:'Liberation Sans', sans-serif;font-size:19.5px;font-weight:400;-webkit-text-stroke:0.45px currentColor;color:#0a0a0a;transform:scaleX(1.0400);">Q3</div>
<div class="t" style="left:608.40px;top:1863.49px;font-family:'Liberation Sans', sans-serif;font-size:19.5px;font-weight:400;-webkit-text-stroke:0.45px currentColor;color:#0a0a0a;transform:scaleX(1.1000);">Q4</div>
<div class="t" style="left:680.10px;top:1863.49px;font-family:'Liberation Sans', sans-serif;font-size:19.5px;font-weight:400;-webkit-text-stroke:0.45px currentColor;color:#0a0a0a;transform:scaleX(0.9040);">Q1</div>
<div class="t" style="left:714.94px;top:1863.49px;font-family:'Liberation Sans', sans-serif;font-size:19.5px;font-weight:400;-webkit-text-stroke:0.45px currentColor;color:#0a0a0a;transform:scaleX(1.0560);">Q2</div>
<div class="t" style="left:751.96px;top:1863.49px;font-family:'Liberation Sans', sans-serif;font-size:19.5px;font-weight:400;-webkit-text-stroke:0.45px currentColor;color:#0a0a0a;transform:scaleX(1.0400);">Q3</div>
<div class="t" style="left:789.40px;top:1863.49px;font-family:'Liberation Sans', sans-serif;font-size:19.5px;font-weight:400;-webkit-text-stroke:0.45px currentColor;color:#0a0a0a;transform:scaleX(1.1000);">Q4</div>
<div class="t" style="left:860.91px;top:1863.49px;font-family:'Liberation Sans', sans-serif;font-size:19.5px;font-weight:400;-webkit-text-stroke:0.45px currentColor;color:#0a0a0a;transform:scaleX(0.8880);">Q1</div>
<div class="t" style="left:895.96px;top:1863.49px;font-family:'Liberation Sans', sans-serif;font-size:19.5px;font-weight:400;-webkit-text-stroke:0.45px currentColor;color:#0a0a0a;transform:scaleX(1.0400);">Q2</div>
<div class="t" style="left:932.65px;top:1863.49px;font-family:'Liberation Sans', sans-serif;font-size:19.5px;font-weight:400;-webkit-text-stroke:0.45px currentColor;color:#0a0a0a;transform:scaleX(1.0520);">Q3</div>
<div class="t" style="left:970.62px;top:1863.49px;font-family:'Liberation Sans', sans-serif;font-size:19.5px;font-weight:400;-webkit-text-stroke:0.45px currentColor;color:#0a0a0a;transform:scaleX(1.0840);">Q4</div>
<div class="t" style="left:1034.62px;top:1863.49px;font-family:'Liberation Sans', sans-serif;font-size:19.5px;font-weight:400;-webkit-text-stroke:0.45px currentColor;color:#0a0a0a;transform:scaleX(0.8760);">Q1</div>
<div class="t" style="left:172.78px;top:1913.18px;font-family:'Liberation Sans', sans-serif;font-size:19.4px;font-weight:700;color:#0a0a0a;transform:scaleX(1.2195);">2020</div>
<div class="t" style="left:362.93px;top:1909.58px;font-family:'Liberation Sans', sans-serif;font-size:19.4px;font-weight:700;color:#0a0a0a;transform:scaleX(1.0714);">2021</div>
<div class="t" style="left:541.21px;top:1909.58px;font-family:'Liberation Sans', sans-serif;font-size:19.4px;font-weight:700;color:#0a0a0a;transform:scaleX(1.1927);">2022</div>
<div class="t" style="left:722.24px;top:1909.58px;font-family:'Liberation Sans', sans-serif;font-size:19.4px;font-weight:700;color:#0a0a0a;transform:scaleX(1.1571);">2023</div>
<div class="t" style="left:911.13px;top:1909.58px;font-family:'Liberation Sans', sans-serif;font-size:19.4px;font-weight:700;color:#0a0a0a;transform:scaleX(1.1738);">2024</div>
<div class="t" style="left:1055.43px;top:1909.58px;font-family:'Liberation Sans', sans-serif;font-size:19.4px;font-weight:700;color:#0a0a0a;transform:scaleX(1.1738);">2025</div>
<div class="t" style="left:159.55px;top:2397.32px;font-family:'Liberation Sans', sans-serif;font-size:19.7px;font-weight:700;-webkit-text-stroke:0.22px #f0fffa;color:#0a0a0a;transform:scaleX(1.0543);">Prabowo</div>
<div class="t" style="left:159.55px;top:2421.32px;font-family:'Liberation Sans', sans-serif;font-size:19.7px;font-weight:700;-webkit-text-stroke:0.22px #f0fffa;color:#0a0a0a;transform:scaleX(1.0470);">Subianto</div>
<div class="t" style="left:382.94px;top:2397.32px;font-family:'Liberation Sans', sans-serif;font-size:19.7px;font-weight:700;-webkit-text-stroke:0.22px #f0fffa;color:#0a0a0a;transform:scaleX(1.0568);">Joko</div>
<div class="t" style="left:370.00px;top:2421.32px;font-family:'Liberation Sans', sans-serif;font-size:19.7px;font-weight:700;-webkit-text-stroke:0.22px #f0fffa;color:#0a0a0a;transform:scaleX(1.0634);">Widodo</div>
<div class="t" style="left:526.96px;top:2397.32px;font-family:'Liberation Sans', sans-serif;font-size:19.7px;font-weight:700;-webkit-text-stroke:0.22px #f0fffa;color:#0a0a0a;transform:scaleX(1.0395);">Susilo Bambang</div>
<div class="t" style="left:549.96px;top:2421.32px;font-family:'Liberation Sans', sans-serif;font-size:19.7px;font-weight:700;-webkit-text-stroke:0.22px #f0fffa;color:#0a0a0a;transform:scaleX(1.0434);">Yudhoyono</div>
<div class="t" style="left:759.52px;top:2397.32px;font-family:'Liberation Sans', sans-serif;font-size:19.7px;font-weight:700;-webkit-text-stroke:0.22px #f0fffa;color:#0a0a0a;transform:scaleX(1.0802);">Megawati</div>
<div class="t" style="left:737.94px;top:2421.32px;font-family:'Liberation Sans', sans-serif;font-size:19.7px;font-weight:700;-webkit-text-stroke:0.22px #f0fffa;color:#0a0a0a;transform:scaleX(1.0606);">Sukarnoputri<span style="font-size:14px;font-weight:700;position:relative;top:-3px">*</span></div>
<div class="t" style="left:74.20px;top:2513.77px;font-family:'Liberation Sans', sans-serif;font-size:20px;font-weight:400;-webkit-text-stroke:0.2px currentColor;color:#111;transform:scaleX(1.0800);">7</div>
<div class="t" style="left:73.12px;top:2561.92px;font-family:'Liberation Sans', sans-serif;font-size:20px;font-weight:400;-webkit-text-stroke:0.2px currentColor;color:#111;transform:scaleX(1.0800);">6</div>
<div class="t" style="left:73.12px;top:2610.07px;font-family:'Liberation Sans', sans-serif;font-size:20px;font-weight:400;-webkit-text-stroke:0.2px currentColor;color:#111;transform:scaleX(1.0800);">5</div>
<div class="t" style="left:73.12px;top:2658.22px;font-family:'Liberation Sans', sans-serif;font-size:20px;font-weight:400;-webkit-text-stroke:0.2px currentColor;color:#111;transform:scaleX(1.0800);">4</div>
<div class="t" style="left:73.12px;top:2706.37px;font-family:'Liberation Sans', sans-serif;font-size:20px;font-weight:400;-webkit-text-stroke:0.2px currentColor;color:#111;transform:scaleX(1.0800);">3</div>
<div class="t" style="left:74.20px;top:2754.52px;font-family:'Liberation Sans', sans-serif;font-size:20px;font-weight:400;-webkit-text-stroke:0.2px currentColor;color:#111;transform:scaleX(1.0800);">2</div>
<div class="t" style="left:74.20px;top:2802.67px;font-family:'Liberation Sans', sans-serif;font-size:20px;font-weight:400;-webkit-text-stroke:0.2px currentColor;color:#111;transform:scaleX(1.0800);">1</div>
<div class="t" style="left:73.12px;top:2850.82px;font-family:'Liberation Sans', sans-serif;font-size:20px;font-weight:400;-webkit-text-stroke:0.2px currentColor;color:#111;transform:scaleX(1.0800);">0</div>
<div class="t" style="left:140.80px;top:2594.36px;font-family:'Liberation Sans', sans-serif;font-size:14.7px;font-weight:400;-webkit-text-stroke:0.35px currentColor;color:#0a0a0a;transform:scaleX(1.1707);">5,02%</div>
<div class="t" style="left:220.60px;top:2614.56px;font-family:'Liberation Sans', sans-serif;font-size:14.7px;font-weight:400;-webkit-text-stroke:0.35px currentColor;color:#0a0a0a;transform:scaleX(1.1317);">4,87%</div>
<div class="t" style="left:342.80px;top:2591.36px;font-family:'Liberation Sans', sans-serif;font-size:14.7px;font-weight:400;-webkit-text-stroke:0.35px currentColor;color:#0a0a0a;transform:scaleX(1.1707);">5,05%</div>
<div class="t" style="left:422.00px;top:2617.06px;font-family:'Liberation Sans', sans-serif;font-size:14.7px;font-weight:400;-webkit-text-stroke:0.35px currentColor;color:#0a0a0a;transform:scaleX(1.1463);">4,83%</div>
<div class="t" style="left:543.00px;top:2497.46px;font-family:'Liberation Sans', sans-serif;font-size:14.7px;font-weight:400;-webkit-text-stroke:0.35px currentColor;color:#0a0a0a;transform:scaleX(1.0244);">7,16%</div>
<div class="t" style="left:625.50px;top:2554.06px;font-family:'Liberation Sans', sans-serif;font-size:14.7px;font-weight:400;-webkit-text-stroke:0.35px currentColor;color:#0a0a0a;transform:scaleX(1.1341);">5,96%</div>
<div class="t" style="left:743.60px;top:2682.76px;font-family:'Liberation Sans', sans-serif;font-size:14.7px;font-weight:400;-webkit-text-stroke:0.35px currentColor;color:#0a0a0a;transform:scaleX(1.1220);">3,44%</div>
<div class="t" style="left:823.65px;top:2772.86px;font-family:'Liberation Sans', sans-serif;font-size:14.7px;font-weight:400;-webkit-text-stroke:0.35px currentColor;color:#0a0a0a;transform:scaleX(1.0500);">1,56%</div>
<div class="t" style="left:138.63px;top:2880.98px;font-family:'Liberation Sans', sans-serif;font-size:19.4px;font-weight:700;color:#0a0a0a;transform:scaleX(1.1667);">2024</div>
<div class="t" style="left:217.83px;top:2880.98px;font-family:'Liberation Sans', sans-serif;font-size:19.4px;font-weight:700;color:#0a0a0a;transform:scaleX(1.1667);">2025</div>
<div class="t" style="left:342.72px;top:2880.98px;font-family:'Liberation Sans', sans-serif;font-size:19.4px;font-weight:700;color:#0a0a0a;transform:scaleX(1.0833);">2014</div>
<div class="t" style="left:421.52px;top:2880.98px;font-family:'Liberation Sans', sans-serif;font-size:19.4px;font-weight:700;color:#0a0a0a;transform:scaleX(1.0810);">2015</div>
<div class="t" style="left:536.38px;top:2880.98px;font-family:'Liberation Sans', sans-serif;font-size:19.4px;font-weight:700;color:#0a0a0a;transform:scaleX(1.2238);">2004</div>
<div class="t" style="left:617.76px;top:2880.98px;font-family:'Liberation Sans', sans-serif;font-size:19.4px;font-weight:700;color:#0a0a0a;transform:scaleX(1.2381);">2005</div>
<div class="t" style="left:780.86px;top:2880.98px;font-family:'Liberation Sans', sans-serif;font-size:19.4px;font-weight:700;color:#0a0a0a;transform:scaleX(1.1429);">2001</div>
<div class="t" style="left:965.75px;top:2494.69px;font-family:'Liberation Sans', sans-serif;font-size:19.5px;font-weight:400;-webkit-text-stroke:0.45px currentColor;color:#0a0a0a;transform:scaleX(0.9480);">Q1</div>
<div class="t" style="left:965.61px;top:2535.39px;font-family:'Liberation Sans', sans-serif;font-size:19.5px;font-weight:400;-webkit-text-stroke:0.45px currentColor;color:#0a0a0a;transform:scaleX(1.0920);">Q3</div>
<div class="t" style="left:965.59px;top:2576.39px;font-family:'Liberation Sans', sans-serif;font-size:19.5px;font-weight:400;-webkit-text-stroke:0.45px currentColor;color:#0a0a0a;transform:scaleX(1.1080);">Q4</div>
<div class="t" style="left:934.92px;top:2801.77px;font-family:'Liberation Sans', sans-serif;font-size:20px;font-weight:400;-webkit-text-stroke:0.3px #f0fffa;color:#000;transform:scaleX(1.0764);">*Megawati mulai</div>
<div class="t" style="left:934.92px;top:2826.07px;font-family:'Liberation Sans', sans-serif;font-size:20px;font-weight:400;-webkit-text-stroke:0.3px #f0fffa;color:#000;transform:scaleX(1.0824);">menjabat pada</div>
<div class="t" style="left:934.94px;top:2849.77px;font-family:'Liberation Sans', sans-serif;font-size:20px;font-weight:400;-webkit-text-stroke:0.3px #f0fffa;color:#000;transform:scaleX(1.0613);">23 Juli 2001</div>
<div class="t" style="left:68.00px;top:2982.56px;font-family:'Liberation Sans', sans-serif;font-size:15.4px;font-weight:400;-webkit-text-stroke:0.15px #f0fffa;letter-spacing:-0.45px;color:#000;transform:scaleX(1.0545);">TERBIT: <b style="letter-spacing:0.3px">07 MEI 2025</b> | NASKAH: <b style="letter-spacing:0.3px">TEMPO MEDIA LAB/FAISAL JAVIER</b> | SUMBER: <b style="letter-spacing:0.3px">BADAN PUSAT STATISTIK</b> | FOTO: <b style="letter-spacing:0.3px">TEMPO/FEBRI ANGGA</b></div>
<div class="t" style="left:76.96px;top:3002.76px;font-family:'Liberation Sans', sans-serif;font-size:15.4px;font-weight:400;-webkit-text-stroke:0.15px #f0fffa;letter-spacing:-0.45px;color:#000;transform:scaleX(1.0409);"><b style="letter-spacing:0.3px">PALGUNA, TEMPO/M TAUFAN RENGGANIS, TEMPO/ILHAM BALINDRA, ANTARA/BIRO PERS DAN MEDIA SETPRES</b> | DESAIN: <b style="letter-spacing:0.3px">TEMPO</b></div>
<div class="t" style="left:364.95px;top:3022.96px;font-family:'Liberation Sans', sans-serif;font-size:15.4px;font-weight:400;-webkit-text-stroke:0.15px #f0fffa;letter-spacing:-0.45px;color:#000;transform:scaleX(1.0511);"><b style="letter-spacing:0.3px">MEDIA LAB/SUNARDI</b> | ILUSTRASI: <b style="letter-spacing:0.3px">DIOLAH DARI FLATICON</b></div>
</body></html>
